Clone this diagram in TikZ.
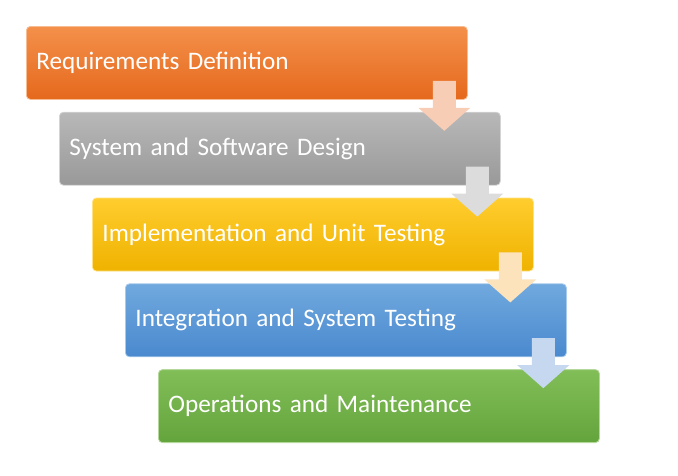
\documentclass[tikz,border=0pt]{standalone}
\usepackage{fontspec}
\setmainfont{Carlito}[WordSpace=0.7]
\usetikzlibrary{calc}
\usetikzlibrary{positioning}

\definecolor{reqTop}{HTML}{F4904A}
\definecolor{reqBot}{HTML}{E5691D}
\definecolor{desTop}{HTML}{B8B8B8}
\definecolor{desBot}{HTML}{999999}
\definecolor{impTop}{HTML}{FFCD2E}
\definecolor{impBot}{HTML}{EFB200}
\definecolor{intTop}{HTML}{70A9DE}
\definecolor{intBot}{HTML}{4A89CF}
\definecolor{opsTop}{HTML}{82BE58}
\definecolor{opsBot}{HTML}{64A43D}
\definecolor{reqArrow}{HTML}{F8CDB6}
\definecolor{desArrow}{HTML}{DCDCDC}
\definecolor{impArrow}{HTML}{FCE3BC}
\definecolor{intArrow}{HTML}{C5D8EF}

\tikzset{
  stage/.style={rounded corners=4pt, minimum height=73pt, text width=421pt,
    inner xsep=10pt, align=left, text=white, line width=0.8pt,
    font=\fontsize{25.2}{28}\selectfont},
  below stage/.style={below=12pt of #1.south west, anchor=north west, xshift=33pt}
}

% block arrow from one stage into the next
\newcommand{\stagearrow}[3]{%
  \fill[#3] ($(#1.south east)+(-35,-19)$) -- ($(#1.south east)+(-12,-19)$)
    -- ($(#2.north east)+(-45,-4)$) -- ($(#2.north east)+(-30.5,-4)$)
    -- ($(#2.north east)+(-56.5,19)$) -- ($(#2.north east)+(-82.5,-4)$)
    -- ($(#2.north east)+(-68,-4)$) -- cycle;}

\begin{document}
\begin{tikzpicture}[x=1pt, y=-1pt]
    \useasboundingbox (0,0) rectangle (678,475);

    % Stages
    \node[stage, anchor=north west, top color=reqTop, bottom color=reqBot, draw=reqTop!60!white]
        (req) at (26,26) {Requirements Definition};
    \node[stage, below stage=req, top color=desTop, bottom color=desBot, draw=desTop!60!white]
        (des) {System and Software Design};
    \node[stage, below stage=des, top color=impTop, bottom color=impBot, draw=impTop!60!white]
        (imp) {Implementation and Unit Testing};
    \node[stage, below stage=imp, top color=intTop, bottom color=intBot, draw=intTop!60!white]
        (int) {Integration and System Testing};
    \node[stage, below stage=int, top color=opsTop, bottom color=opsBot, draw=opsTop!60!white]
        (ops) {Operations and Maintenance};

    % Arrows between stages
    \stagearrow{req}{des}{reqArrow}
    \stagearrow{des}{imp}{desArrow}
    \stagearrow{imp}{int}{impArrow}
    \stagearrow{int}{ops}{intArrow}
\end{tikzpicture}
\end{document}
